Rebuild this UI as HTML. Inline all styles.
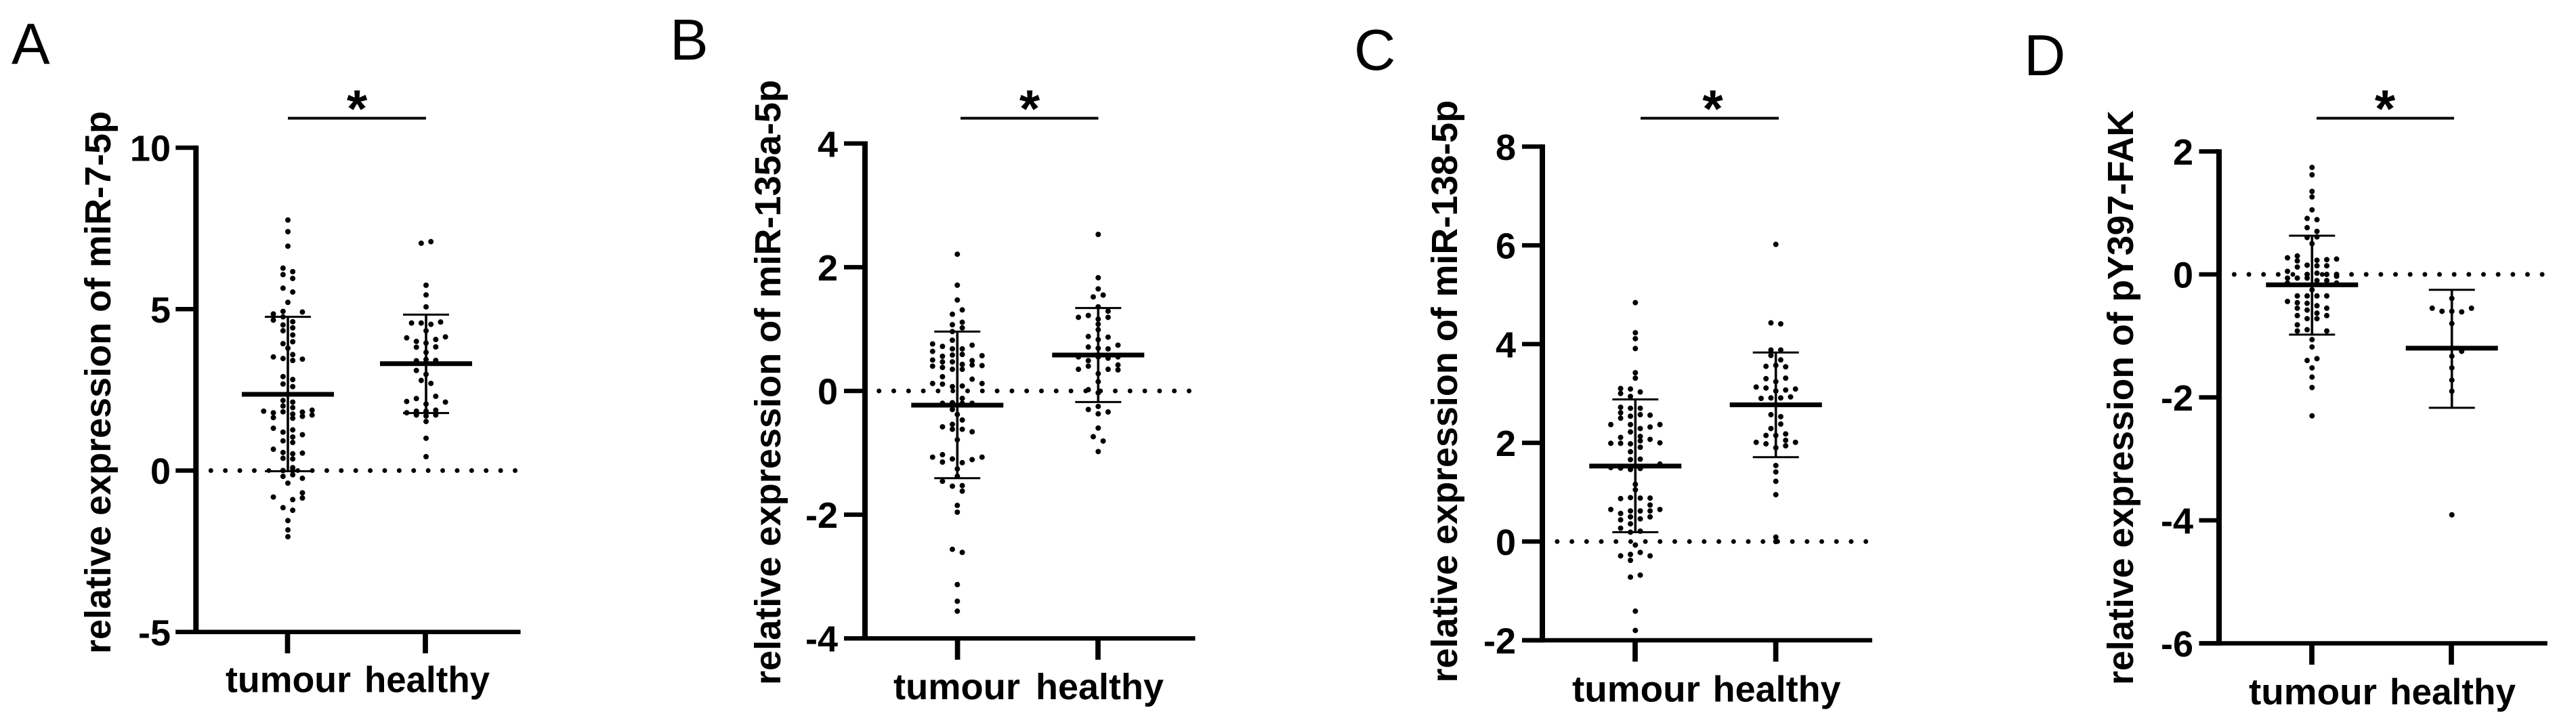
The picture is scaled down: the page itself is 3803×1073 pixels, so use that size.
<!DOCTYPE html>
<html lang="en">
<head>
<meta charset="utf-8">
<title>Relative expression scatter plots</title>
<style>
html,body{margin:0;padding:0;background:#fff;}
#figure{display:block;}
text{font-family:"Liberation Sans",Arial,sans-serif;fill:#000;}
</style>
</head>
<body>
<svg id="figure" xmlns="http://www.w3.org/2000/svg" width="3803" height="1073" viewBox="0 0 3803 1073">
<rect width="3803" height="1073" fill="#fff"/>
</svg>
<script>
// Each inner array is one swarm row of values, left to right; null = empty slot in that row.
const categories = ['tumour', 'healthy'];

const ticksA = [10, 5, 0, -5];
const ticksB = [4, 2, 0, -2, -4];
const ticksC = [8, 6, 4, 2, 0, -2];
const ticksD = [2, 0, -2, -4, -6];

const tumourA = [[7.76],[7.40],[6.95],[6.27,6.16],[6.07,5.95],[5.65,5.53],[5.21],[4.85,4.93,null,4.91],[4.66,4.76,4.61,null],[4.51,4.42],[4.33,4.20],[3.93,3.99],[3.79],[null,3.59],[3.52,3.47,3.41,3.45],[2.91,2.82],[2.68,2.60],[2.17,2.12],[2.00,1.95],[1.84,1.79,1.82,1.75,1.81,1.87],[null,1.64,null,1.62,1.68,1.72],[1.31,1.19,1.26,1.11],[0.92,1.04],[null,0.87],[0.66,0.56,0.52,0.54],[0.38,0.36],[null,0.09],[0,0],[null,-0.18,-0.13,-0.24],[-0.39],[null,null,null,-0.69],[-0.82,null,-0.90,-0.85],[-1.15,-1.23],[-1.55],[-1.84],[-2.05]];
const healthyA = [[7.04,7.09],[5.74],[5.44],[5.07],[4.57,4.57,4.53,4.60],[4.33],[4.11,4.00,3.95,4.06,4.14],[3.82,3.66,3.83],[3.40,3.44,3.41],[3.10,2.98,null],[2.79,2.70],[2.14,2.23,2.06,2.30,2.12],[1.79,1.84,1.84,1.87,null],[1.72,1.69,1.72],[1.52],[1.00],[0.43]];
const meansA = [2.36, 3.31];
const uppersA = [4.76, 4.83];
const lowersA = [-0.02, 1.78];

const tumourB = [[2.21],[1.71],[1.47],[1.24,1.31],[1.07,1.11],[0.96,1.02],[0.82,null],[0.76,0.72,0.68,0.68,0.74,0.57],[0.64,0.56,0.58,0.59,0.49,null],[0.50,0.47,0.47,0.43,0.42,0.41],[0.40,0.38,0.35,0.35,null,null],[null,0.23,null,null,0.19,null],[0.12,0.11,0.07,0.08,null,0.12],[null,-0.12],[-0.20,-0.19,-0.20,-0.20],[-0.30,null],[-0.38],[-0.54,-0.47],[-0.58,-0.62,-0.62,-0.66],[-0.79],[-1.07,-1.03,-1.10,-1.16,-1.11,-1.07],[-1.15,null,null,null],[-1.26],[-1.38],[-1.46,-1.54,-1.53,null],[null,-1.62],[-1.85],[-1.96],[-2.56,-2.61],[-3.13],[-3.40],[-3.56]];
const healthyB = [[2.53],[1.83],[1.65],[1.52,1.55],[1.36],[1.19,1.22,1.16,1.29,null],[null,null,1.08,1.19,null],[0.99],[null,0.88,0.83,0.87,0.74],[null,0.71,0.69,0.68,null],[0.55,0.49,0.55,0.53,0.55],[0.35,0.40,0.28,0.35,0.42],[null,null,null,null,0.34],[0.15],[null,0.02,-0.03,null,null],[null,-0.30,-0.25,-0.34,null],[-0.37],[-0.60],[-0.74,-0.81],[-0.98]];
const meansB = [-0.23, 0.58];
const uppersB = [0.96, 1.34];
const lowersB = [-1.41, -0.18];

const tumourC = [[4.84],[4.23],[4.11],[3.91],[3.42],[3.31],[3.10,3.09,3.03,null],[3.00,2.94,null,null],[2.72,2.70,2.70,2.56],[2.61,2.54,2.57,null],[2.50,null,null,null],[2.37,null,2.37,2.29,2.32,2.37],[null,2.22,null,null],[2.11,null,2.13,2.07],[1.99,1.99,1.98,2.04,null,2.00],[null,1.91],[1.82,null],[1.66,1.67],[1.50,1.49,1.46,1.48,null,1.57],[1.16],[1.05],[0.87,0.89,0.88,0.88],[null,null,null,0.74],[0.65,null,0.62,0.62,0.62,0.65],[0.57,0.50,0.46,0.50],[0.44,0.36,null,null],[0.27,0.19,0.21,null],[-0.07],[-0.29,-0.26,-0.22,-0.29],[-0.38,null],[-0.72,-0.68],[-1.41],[-1.80]];
const healthyC = [[6.02],[4.43,4.41],[3.88,3.88],[3.77,3.68],[3.55,3.57,3.54],[3.30,3.24,3.31],[3.13,3.11,3.05,3.07,3.09],[2.90,2.91,2.91,2.93],[2.57,2.53],[2.29,2.38],[2.15,2.15,2.18],[2.01,1.98,1.90,2.05,2.01],[null,null,1.94],[1.54],[1.41],[1.22],[0.95],[0.09],[0.0]];
const meansC = [1.53, 2.77];
const uppersC = [2.88, 3.83];
const lowersC = [0.19, 1.71];

const tumourD = [[1.74],[1.62],[1.35],[1.26],[1.05],[0.91,0.89],[0.76,0.70],[0.60,0.61],[0.50],[0.27,0.30,null,0.23,0.24,0.25],[null,0.22,0.15,0.14,0.14,null],[0.12,null,null,null],[0.05,null,0,0.02,0,0],[-0.06,-0.06,-0.06,-0.10,-0.10,-0.03],[-0.14,null,null,null,null,-0.14],[-0.25],[-0.35,-0.35,-0.35,-0.35],[-0.44,-0.46,-0.47,-0.51,-0.55,null],[-0.55,-0.58,-0.63,-0.67],[-0.67,-0.72,-0.72,null],[-0.82,-0.90,null,-0.92],[-0.92,null,null,null],[-1.06],[-1.18],[-1.40,-1.37],[-1.52],[-1.67],[-1.84],[-2.30]];
const healthyD = [[-0.39],[-0.55,-0.60,-0.60,-0.61,-0.55],[-0.80],[null,null,-1.25],[-1.33],[-1.52],[-1.72],[-1.90],[-3.91]];
const meansD = [-0.17, -1.20];
const uppersD = [0.63, -0.25];
const lowersD = [-0.98, -2.17];

const SVG_NS = 'http://www.w3.org/2000/svg';
const svg = document.getElementById('figure');

function make(tag, parent) {
  const node = document.createElementNS(SVG_NS, tag);
  parent.appendChild(node);
  return node;
}

function line(parent, x1, y1, x2, y2, width) {
  const l = make('line', parent);
  l.setAttribute('x1', x1);
  l.setAttribute('y1', y1);
  l.setAttribute('x2', x2);
  l.setAttribute('y2', y2);
  l.setAttribute('stroke', '#000');
  l.setAttribute('stroke-width', width);
  return l;
}

function drawPanel(p) {
  const g = make('g', svg);
  
  

  const yOf = v => p.y0 - v * p.unit;
  const yTop = yOf(Math.max(...p.ticks));
  const yBottom = yOf(Math.min(...p.ticks));

  const letter = make('text', g);
  
  
  letter.setAttribute('x', p.letterX);
  letter.setAttribute('y', p.letterY);
  letter.setAttribute('font-size', 85);
  letter.textContent = p.letter;

  const title = make('text', g);
  
  
  title.setAttribute('transform', 'translate(' + p.titleX + ',' + p.titleBottom + ') rotate(-90)');
  title.setAttribute('font-size', 54);
  title.setAttribute('font-weight', 'bold');
  title.setAttribute('textLength', p.titleLength);
  title.setAttribute('lengthAdjust', 'spacingAndGlyphs');
  title.textContent = p.title;

  const yAxis = line(g, p.axisX, yTop - 3.25, p.axisX, yBottom + 3.25, 8);
  
  

  const xAxis = line(g, p.tickLeft, yBottom, p.axisRight, yBottom, 6.5);
  
  

  p.ticks.forEach(t => {
    const tick = line(g, p.tickLeft, yOf(t), p.axisX, yOf(t), 6.5);
    
    
    const label = make('text', g);
    
    
    label.setAttribute('x', p.tickLabelX);
    label.setAttribute('y', yOf(t) + 19.5);
    label.setAttribute('font-size', 54);
    label.setAttribute('font-weight', 'bold');
    label.setAttribute('text-anchor', 'end');
    label.textContent = String(t);
  });

  const zero = line(g, p.dotStart, yOf(0), p.dotEnd, yOf(0), 7);
  
  
  zero.setAttribute('stroke-linecap', 'round');
  zero.setAttribute('stroke-dasharray', '0 ' + p.dotGap);

  const groups = [p.tumour, p.healthy];
  groups.forEach((rows, gi) => {
    const cx = p.centers[gi];
    const groupEl = make('g', g);
    
    

    rows.forEach(row => {
      row.forEach((v, i) => {
        if (v === null) return;
        const dot = make('circle', groupEl);
        
        
        dot.setAttribute('cx', cx + (i - (row.length - 1) / 2) * p.step);
        dot.setAttribute('cy', yOf(v));
        dot.setAttribute('r', 4);
        dot.setAttribute('fill', '#000');
      });
    });

    const stem = line(groupEl, cx, yOf(p.uppers[gi]), cx, yOf(p.lowers[gi]), 3.6);
    
    

    const capUp = line(groupEl, cx - 34, yOf(p.uppers[gi]), cx + 34, yOf(p.uppers[gi]), 3);
    
    

    const capLow = line(groupEl, cx - 34, yOf(p.lowers[gi]), cx + 34, yOf(p.lowers[gi]), 3);
    
    

    const mean = line(groupEl, cx - 68, yOf(p.means[gi]), cx + 68, yOf(p.means[gi]), 7);
    
    

    const xTick = line(g, p.xTicks[gi], yBottom, p.xTicks[gi], yBottom + 31.5, 7.7);
    
    

    const catLabel = make('text', g);
    
    
    catLabel.setAttribute('x', p.catX[gi]);
    catLabel.setAttribute('y', p.catY);
    catLabel.setAttribute('font-size', 54);
    catLabel.setAttribute('font-weight', 'bold');
    catLabel.setAttribute('textLength', p.catLength[gi]);
    catLabel.setAttribute('lengthAdjust', 'spacingAndGlyphs');
    catLabel.textContent = categories[gi];
  });

  const sig = line(g, p.sigLeft, 174.5, p.sigRight, 174.5, 4);
  
  

  const star = make('text', g);
  
  
  star.setAttribute('x', p.starX);
  star.setAttribute('y', 187);
  star.setAttribute('font-size', 78);
  star.setAttribute('font-weight', 'bold');
  star.setAttribute('text-anchor', 'middle');
  star.textContent = '*';
}

drawPanel({
  letter: 'A', letterX: 17, letterY: 94,
  title: 'relative expression of miR-7-5p', titleX: 163, titleBottom: 965, titleLength: 801,
  ticks: ticksA, y0: 694.5, unit: 47.65,
  axisX: 289.3, tickLeft: 259.3, axisRight: 768.5, tickLabelX: 252,
  dotStart: 311.3, dotEnd: 760.6, dotGap: 21.39,
  centers: [425, 629], xTicks: [424.5, 628], step: 14.3,
  tumour: tumourA, healthy: healthyA, means: meansA, uppers: uppersA, lowers: lowersA,
  catX: [333, 538], catY: 1021.7, catLength: [185, 185],
  sigLeft: 425, sigRight: 629, starX: 527
});

drawPanel({
  letter: 'B', letterX: 989, letterY: 88,
  title: 'relative expression of miR-135a-5p', titleX: 1152, titleBottom: 1011, titleLength: 893,
  ticks: ticksB, y0: 577, unit: 91.3,
  axisX: 1277, tickLeft: 1246, axisRight: 1764.5, tickLabelX: 1237,
  dotStart: 1297.7, dotEnd: 1756, dotGap: 21.8,
  centers: [1413.3, 1621.3], xTicks: [1413.6, 1621], step: 14.6,
  tumour: tumourB, healthy: healthyB, means: meansB, uppers: uppersB, lowers: lowersB,
  catX: [1319, 1529], catY: 1032, catLength: [187, 189],
  sigLeft: 1418, sigRight: 1621.5, starX: 1520
});

drawPanel({
  letter: 'C', letterX: 1999, letterY: 103,
  title: 'relative expression of miR-138-5p', titleX: 2151, titleBottom: 1007.5, titleLength: 859.5,
  ticks: ticksC, y0: 799.3, unit: 72.86,
  axisX: 2277, tickLeft: 2247, axisRight: 2764, tickLabelX: 2238,
  dotStart: 2298.9, dotEnd: 2756.5, dotGap: 21.7,
  centers: [2414.3, 2621.7], xTicks: [2414, 2621.6], step: 14.5,
  tumour: tumourC, healthy: healthyC, means: meansC, uppers: uppersC, lowers: lowersC,
  catX: [2321, 2528.6], catY: 1035.5, catLength: [189, 189],
  sigLeft: 2422, sigRight: 2626, starX: 2528.6
});

drawPanel({
  letter: 'D', letterX: 2988, letterY: 111,
  title: 'relative expression of pY397-FAK', titleX: 3149, titleBottom: 1011, titleLength: 848,
  ticks: ticksD, y0: 405, unit: 90.75,
  axisX: 3276, tickLeft: 3246.5, axisRight: 3760.7, tickLabelX: 3238,
  dotStart: 3298.4, dotEnd: 3754, dotGap: 21.65,
  centers: [3413.3, 3619.7], xTicks: [3413, 3619], step: 14.5,
  tumour: tumourD, healthy: healthyD, means: meansD, uppers: uppersD, lowers: lowersD,
  catX: [3320, 3528], catY: 1039.5, catLength: [189, 186],
  sigLeft: 3420, sigRight: 3623, starX: 3521
});
</script>
</body>
</html>
